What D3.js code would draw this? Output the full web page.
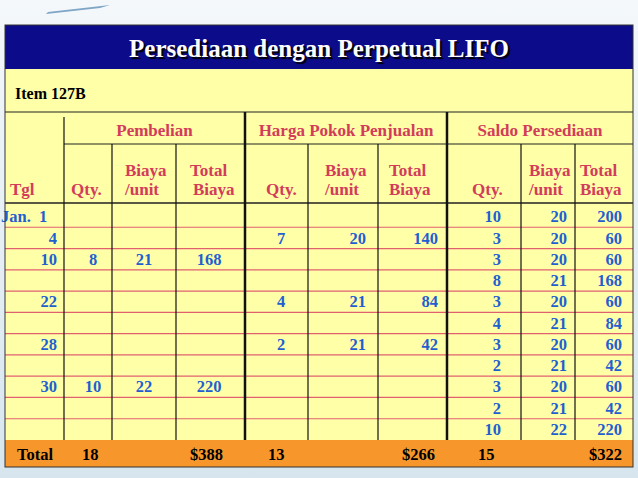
<!DOCTYPE html>
<html><head><meta charset="utf-8">
<script src="https://cdn.jsdelivr.net/npm/d3@7.9.0/dist/d3.min.js"></script>
<style>body{margin:0;background:#eef3f7;}svg{display:block;font-family:"Liberation Serif",serif;font-weight:bold;}</style>
</head><body>
<svg id="c" width="638" height="478"></svg>
<script>
// table data
const tgl = ['Jan.  1', '4', '10', '', '22', '', '28', '', '30', '', ''];
const beliQty = [null, null, 8, null, null, null, null, null, 10, null, null];
const beliUnit = [null, null, 21, null, null, null, null, null, 22, null, null];
const beliTotal = [null, null, 168, null, null, null, null, null, 220, null, null];
const jualQty = [null, 7, null, null, 4, null, 2, null, null, null, null];
const jualUnit = [null, 20, null, null, 21, null, 21, null, null, null, null];
const jualTotal = [null, 140, null, null, 84, null, 42, null, null, null, null];
const saldoQty = [10, 3, 3, 8, 3, 4, 3, 2, 3, 2, 10];
const saldoUnit = [20, 20, 20, 21, 20, 21, 20, 21, 20, 21, 22];
const saldoTotal = [200, 60, 60, 168, 60, 84, 60, 42, 60, 42, 220];
const totals = ['Total', '18', '$388', '13', '$266', '15', '$322'];
const groups = ['Pembelian', 'Harga Pokok Penjualan', 'Saldo Persediaan'];

const svg = d3.select('#c');
const L = 5, R = 633;
const edges = [L, 64, 112, 176, 245, 308, 378, 447, 521, 575, R];

// background decoration
const g0 = svg.append('defs').append('linearGradient').attr('id', 'bg').attr('x1', 0).attr('y1', 0).attr('x2', 0).attr('y2', 1);
g0.append('stop').attr('offset', 0).attr('stop-color', '#f4f8fb');
g0.append('stop').attr('offset', 1).attr('stop-color', '#d7e6ee');
svg.append('rect').attr('width', 638).attr('height', 478).attr('fill', 'url(#bg)');
svg.append('path').attr('d', 'M48,12 L110,5 L100,8 L46,14 Z').attr('fill', '#7fa6c6');

// title
svg.append('rect').attr('x', L).attr('y', 25).attr('width', R - L).attr('height', 44).attr('fill', '#0c0c8a');
svg.append('text').attr('x', 319).attr('y', 57).attr('text-anchor', 'middle').attr('fill', '#fff')
  .attr('font-size', 25).style('text-shadow', '2px 2px 1px #000').text('Persediaan dengan Perpetual LIFO');

// body
svg.append('rect').attr('x', L).attr('y', 69).attr('width', R - L).attr('height', 371).attr('fill', '#ffffa8');
svg.append('text').attr('x', 15).attr('y', 99).attr('font-size', 16).attr('fill', '#000').text('Item  127B');

const y = d3.scaleBand().domain(d3.range(tgl.length)).range([206, 440]);

// row lines
svg.selectAll('.rl').data(d3.range(tgl.length - 1)).join('line')
  .attr('x1', L).attr('x2', R).attr('y1', i => y(i) + y.bandwidth()).attr('y2', i => y(i) + y.bandwidth())
  .attr('stroke', '#e06070').attr('stroke-width', 1.2);

// horizontal header lines
const hl = (x1, x2, yy, w) => svg.append('line').attr('x1', x1).attr('x2', x2).attr('y1', yy).attr('y2', yy).attr('stroke', '#222').attr('stroke-width', w);
hl(L, R, 112, 1.2); hl(64, R, 144, 1.2); hl(L, R, 203, 1.5);

// vertical lines
edges.slice(1, -1).forEach(x => {
  const thick = x === 245 || x === 447;
  const top = (x === 64) ? 117 : thick ? 112 : 144;
  svg.append('line').attr('x1', x).attr('x2', x).attr('y1', top).attr('y2', 440)
    .attr('stroke', '#111').attr('stroke-width', thick ? 2.5 : 1.2);
});

// group headers
const red = '#d23c5a';
[[64, 245], [245, 447], [447, R]].forEach(([a, b], i) => {
  svg.append('text').attr('x', (a + b) / 2).attr('y', 136).attr('text-anchor', 'middle')
    .attr('font-size', 17).attr('fill', red).text(groups[i]);
});
const sub = (x, yy, t) => svg.append('text').attr('x', x).attr('y', yy).attr('font-size', 17).attr('fill', red).text(t);
sub(10, 195, 'Tgl');
sub(71, 195, 'Qty.'); sub(125, 176, 'Biaya'); sub(125, 195, '/unit'); sub(190, 176, 'Total'); sub(193, 195, 'Biaya');
sub(266, 195, 'Qty.'); sub(325, 176, 'Biaya'); sub(325, 195, '/unit'); sub(389, 176, 'Total'); sub(389, 195, 'Biaya');
sub(472, 195, 'Qty.'); sub(529, 176, 'Biaya'); sub(529, 195, '/unit'); sub(580, 176, 'Total'); sub(580, 195, 'Biaya');

// data columns: values, x, anchor
const cols = [
  [tgl, 57, 'end'],
  [beliQty, 93, 'middle'], [beliUnit, 144, 'middle'], [beliTotal, 209, 'middle'],
  [jualQty, 281, 'middle'], [jualUnit, 366, 'end'], [jualTotal, 438, 'end'],
  [saldoQty, 501, 'end'], [saldoUnit, 567, 'end'], [saldoTotal, 622, 'end']
];
cols.forEach(([vals, x, anchor], ci) => {
  svg.append('g').selectAll('text').data(vals).join('text')
    .attr('x', (d, i) => (ci === 0 && i === 0) ? 1 : x)
    .attr('text-anchor', (d, i) => (ci === 0 && i === 0) ? 'start' : anchor)
    .attr('y', (d, i) => y(i) + y.bandwidth() - 5)
    .attr('font-size', 16.5).attr('fill', '#1f5fd0').style('white-space', 'pre')
    .text(d => d === null ? '' : d);
});

// total row
svg.append('rect').attr('x', L).attr('y', 440).attr('width', R - L).attr('height', 27).attr('fill', '#f7962a');
const tx = [[17, 'start'], [82, 'start'], [223, 'end'], [268, 'start'], [435, 'end'], [478, 'start'], [622, 'end']];
svg.append('g').selectAll('text').data(totals).join('text')
  .attr('x', (d, i) => tx[i][0]).attr('text-anchor', (d, i) => tx[i][1]).attr('y', 460)
  .attr('font-size', 16.5).attr('fill', '#000').text(d => d);

svg.append('rect').attr('x', L).attr('y', 25).attr('width', R - L).attr('height', 442).attr('fill', 'none').attr('stroke', '#333').attr('stroke-width', 1);
</script>
</body></html>
